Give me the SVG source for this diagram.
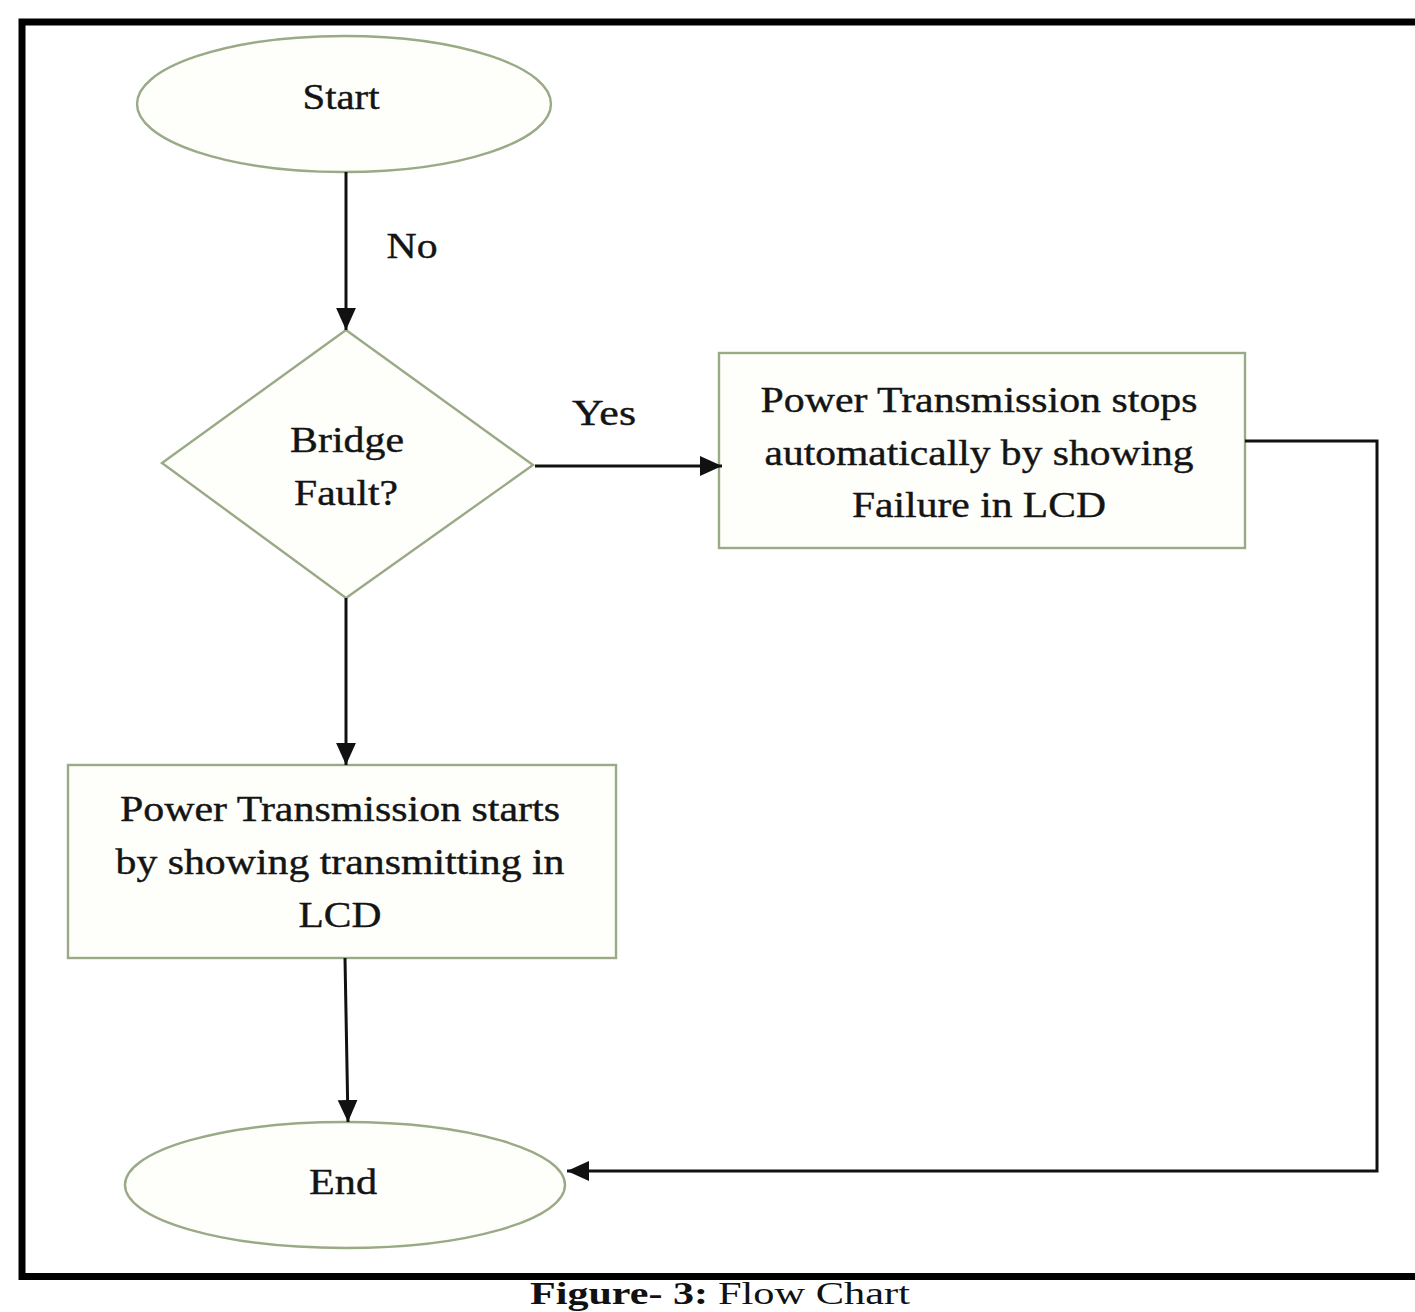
<svg xmlns="http://www.w3.org/2000/svg" width="1415" height="1312" viewBox="0 0 1415 1312">
<style>
.shape{fill:#fefffb;stroke:#9aa986;stroke-width:2.4}
.t{font-family:"Liberation Serif","Times New Roman",serif;font-size:36px;fill:#141414;text-anchor:middle;stroke:#141414;stroke-width:0.4}
.conn{fill:none;stroke:#111;stroke-width:3}
.cap{font-family:"Liberation Serif","DejaVu Serif",serif;font-size:31px;fill:#111}
</style>
<defs>
<marker id="ah" viewBox="0 0 10 10" refX="10" refY="5" markerWidth="22" markerHeight="22" markerUnits="userSpaceOnUse" orient="auto">
<path d="M0,0.5 L10,5 L0,9.5 z" fill="#111"/>
</marker>
</defs>
<rect width="1415" height="1312" fill="#ffffff"/>
<path d="M1420,22 L22,22 L22,1276.5 L1420,1276.5" fill="none" stroke="#000" stroke-width="7"/>

<g id="start">
<ellipse class="shape" cx="344" cy="104" rx="207" ry="68"/>
<text class="t" x="341" y="109" textLength="77" lengthAdjust="spacingAndGlyphs">Start</text>
</g>
<g id="decision">
<polygon class="shape" points="346,330 533,465 346,598 162,463"/>
<text class="t" x="347" y="452" textLength="114" lengthAdjust="spacingAndGlyphs">Bridge</text>
<text class="t" x="346" y="505" textLength="104" lengthAdjust="spacingAndGlyphs">Fault?</text>
</g>
<g id="stop">
<rect class="shape" x="719" y="353" width="526" height="195"/>
<text class="t" x="979" y="412" textLength="437" lengthAdjust="spacingAndGlyphs">Power Transmission stops</text>
<text class="t" x="979" y="465" textLength="429" lengthAdjust="spacingAndGlyphs">automatically by showing</text>
<text class="t" x="979" y="517" textLength="254" lengthAdjust="spacingAndGlyphs">Failure in LCD</text>
</g>
<g id="run">
<rect class="shape" x="68" y="765" width="548" height="193"/>
<text class="t" x="340" y="821" textLength="440" lengthAdjust="spacingAndGlyphs">Power Transmission starts</text>
<text class="t" x="340" y="874" textLength="449" lengthAdjust="spacingAndGlyphs">by showing transmitting in</text>
<text class="t" x="340" y="927" textLength="83" lengthAdjust="spacingAndGlyphs">LCD</text>
</g>
<g id="end">
<ellipse class="shape" cx="345" cy="1185" rx="220" ry="63"/>
<text class="t" x="343" y="1194" textLength="68" lengthAdjust="spacingAndGlyphs">End</text>
</g>

<g id="connectors">
<line class="conn" x1="346" y1="172" x2="346" y2="330" marker-end="url(#ah)"/>
<text class="t" x="412" y="258" textLength="51" lengthAdjust="spacingAndGlyphs">No</text>
<line class="conn" x1="535" y1="466" x2="722" y2="466" marker-end="url(#ah)"/>
<text class="t" x="604" y="425" textLength="64" lengthAdjust="spacingAndGlyphs">Yes</text>
<line class="conn" x1="346" y1="598" x2="346" y2="765" marker-end="url(#ah)"/>
<line class="conn" x1="345" y1="958" x2="348" y2="1122" marker-end="url(#ah)"/>
<polyline class="conn" points="1245,441 1377,441 1377,1171 567,1171" marker-end="url(#ah)"/>
</g>

<text class="cap" x="530" y="1304"><tspan font-weight="bold" textLength="178" lengthAdjust="spacingAndGlyphs">Figure- 3:</tspan><tspan dx="10" textLength="192" lengthAdjust="spacingAndGlyphs">Flow Chart</tspan></text>
</svg>
